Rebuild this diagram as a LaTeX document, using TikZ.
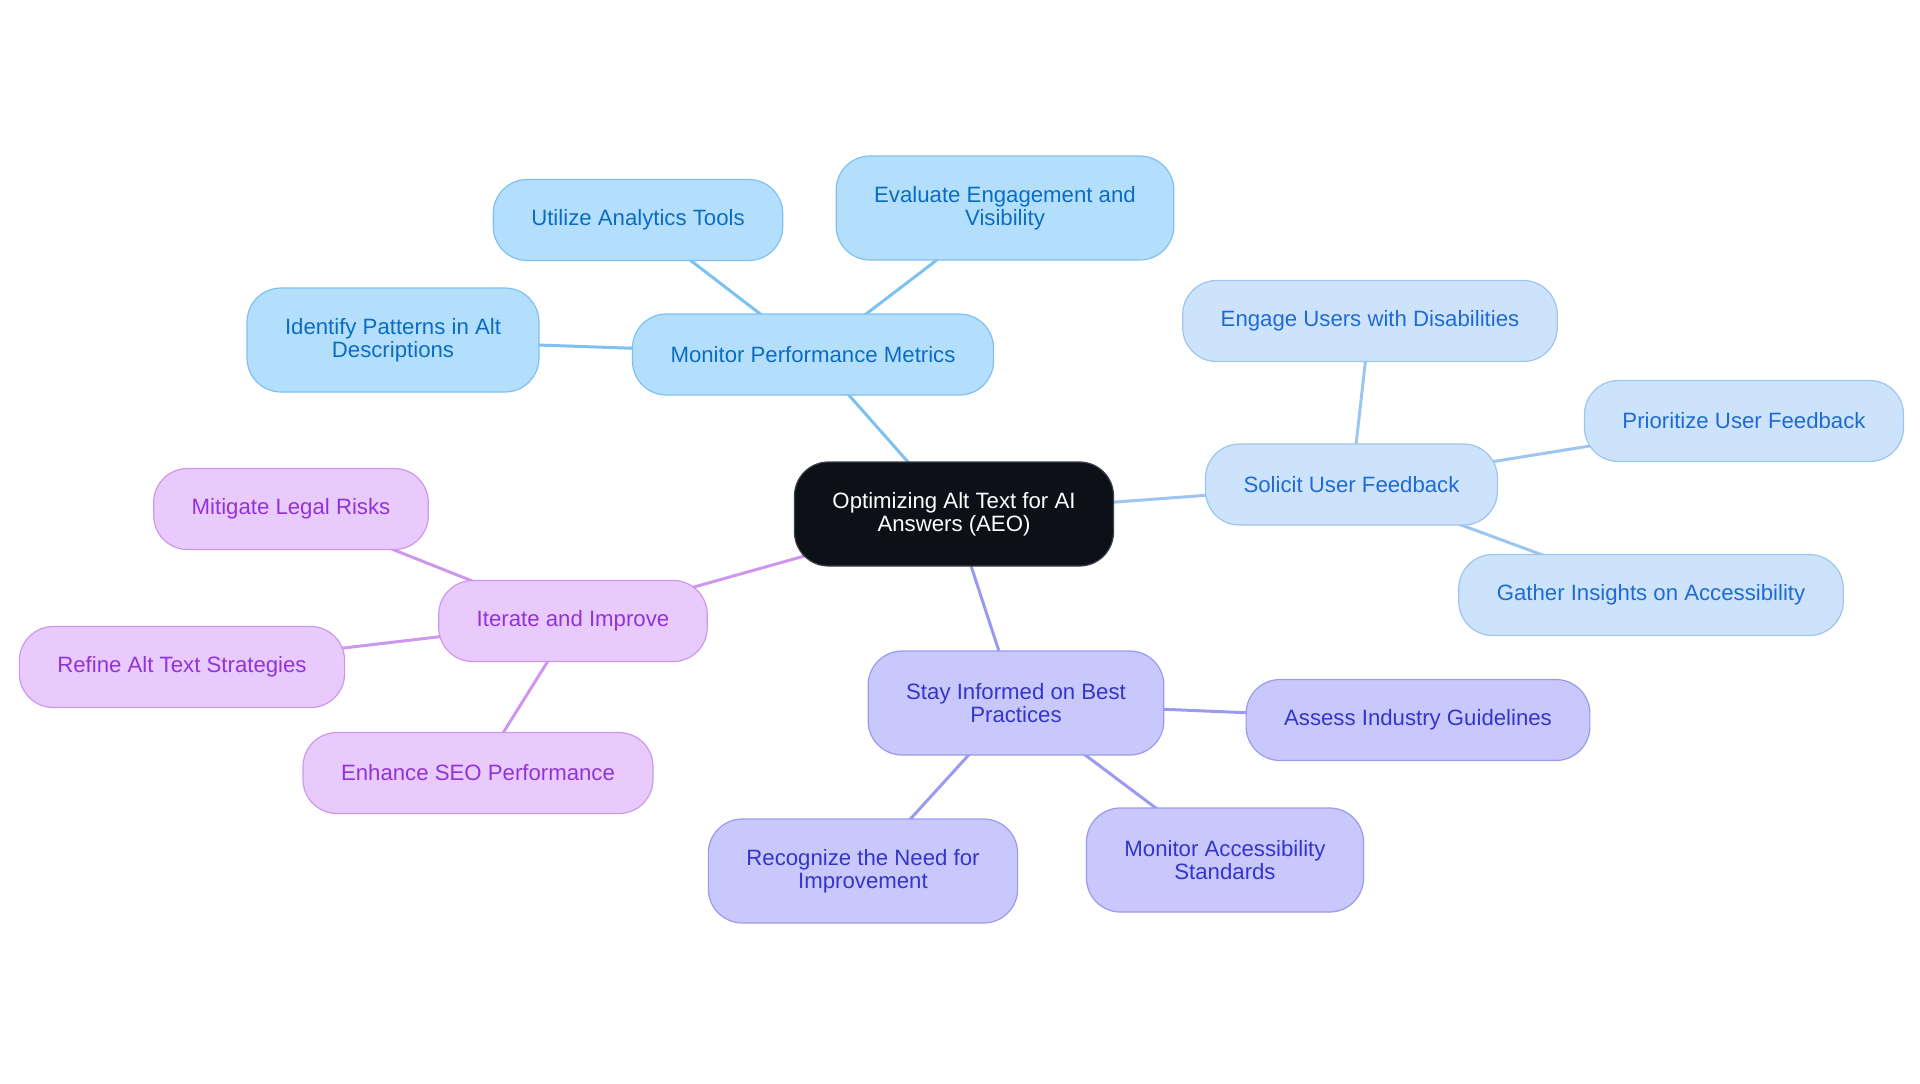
\documentclass[tikz,border=0pt]{standalone}
\usepackage{fontspec}
\setmainfont{Liberation Sans}
\usepackage{tikz}
\usetikzlibrary{positioning}
\pgfdeclarelayer{background}
\pgfsetlayers{background,main}

\definecolor{rootfill}{HTML}{0D1117}
\definecolor{rootline}{HTML}{3A3F47}
\definecolor{bluefill}{HTML}{B3DFFD}
\definecolor{blueline}{HTML}{7DC1F0}
\definecolor{bluetext}{HTML}{0B6DC2}
\definecolor{skyfill}{HTML}{CDE3FB}
\definecolor{skyline}{HTML}{9CC5F0}
\definecolor{skytext}{HTML}{1F6BD4}
\definecolor{lilacfill}{HTML}{E8CBFC}
\definecolor{lilacline}{HTML}{CE97EE}
\definecolor{lilactext}{HTML}{9233D6}
\definecolor{indigofill}{HTML}{C8C8FC}
\definecolor{indigoline}{HTML}{9A9AF0}
\definecolor{indigotext}{HTML}{3535CB}

\newcommand{\mapfont}{\fontsize{11.1}{11.6}\selectfont}

\tikzset{
  idea/.style={draw, line width=0.6pt, rounded corners=17pt, align=center,
               inner xsep=19pt, minimum height=40.5pt, font=\mapfont},
  tall/.style={minimum height=52pt},
  rootidea/.style={idea, tall, fill=rootfill, draw=rootline, text=white},
  blueidea/.style={idea, fill=bluefill, draw=blueline, text=bluetext},
  skyidea/.style={idea, fill=skyfill, draw=skyline, text=skytext},
  lilacidea/.style={idea, fill=lilacfill, draw=lilacline, text=lilactext},
  indigoidea/.style={idea, fill=indigofill, draw=indigoline, text=indigotext},
  link/.style={line width=1.5pt}
}

\begin{document}
\begin{tikzpicture}
\useasboundingbox (-477pt,-284.5pt) rectangle (483pt,257pt);
\node[rootidea](root)at(0,0){Optimizing Alt Text for AI\\Answers (AEO)};
% branche : suivi des performances
\node[blueidea, xshift=-70.5pt, yshift=79.75pt](mpm)at(root){Monitor Performance Metrics};
\node[blueidea, xshift=-87.5pt, yshift=67.25pt](uat)at(mpm){Utilize Analytics Tools};
\node[blueidea, tall, xshift=96pt, yshift=73.25pt](eev)at(mpm){Evaluate Engagement and\\Visibility};
\node[blueidea, tall, xshift=-210pt, yshift=7.25pt](ipa)at(mpm){Identify Patterns in Alt\\Descriptions};
% branche : retours des utilisateurs
\node[skyidea, xshift=198.75pt, yshift=14.75pt](suf)at(root){Solicit User Feedback};
\node[skyidea, xshift=9.25pt, yshift=81.75pt](euw)at(suf){Engage Users with Disabilities};
\node[skyidea, xshift=196.25pt, yshift=31.75pt](puf)at(suf){Prioritize User Feedback};
\node[skyidea, xshift=149.75pt, yshift=-55.25pt](gia)at(suf){Gather Insights on Accessibility};
% branche : amélioration continue
\node[lilacidea, xshift=-190.5pt, yshift=-53.5pt](iai)at(root){Iterate and Improve};
\node[lilacidea, xshift=-141pt, yshift=56pt](mlr)at(iai){Mitigate Legal Risks};
\node[lilacidea, xshift=-195.5pt, yshift=-23pt](rat)at(iai){Refine Alt Text Strategies};
\node[lilacidea, xshift=-47.5pt, yshift=-76pt](esp)at(iai){Enhance SEO Performance};
% branche : veille
\node[indigoidea, tall, xshift=31pt, yshift=-94.5pt](sib)at(root){Stay Informed on Best\\Practices};
\node[indigoidea, xshift=201pt, yshift=-8.5pt](aig)at(sib){Assess Industry Guidelines};
\node[indigoidea, tall, xshift=-76.5pt, yshift=-84pt](rni)at(sib){Recognize the Need for\\Improvement};
\node[indigoidea, tall, xshift=104.5pt, yshift=-78.5pt](mas)at(sib){Monitor Accessibility\\Standards};
\begin{pgfonlayer}{background}
\draw[link, blueline](root.center)--(mpm.center);
\draw[link, blueline](mpm.center)--(uat.center);
\draw[link, blueline](mpm.center)--(eev.center);
\draw[link, blueline](mpm.center)--(ipa.center);
\draw[link, skyline](root.center)--(suf.center);
\draw[link, skyline](suf.center)--(euw.center);
\draw[link, skyline](suf.center)--(puf.center);
\draw[link, skyline](suf.center)--(gia.center);
\draw[link, lilacline](root.center)--(iai.center);
\draw[link, lilacline](iai.center)--(mlr.center);
\draw[link, lilacline](iai.center)--(rat.center);
\draw[link, lilacline](iai.center)--(esp.center);
\draw[link, indigoline](root.center)--(sib.center);
\draw[link, indigoline](sib.center)--(aig.center);
\draw[link, indigoline](sib.center)--(rni.center);
\draw[link, indigoline](sib.center)--(mas.center);
\end{pgfonlayer}
\end{tikzpicture}
\end{document}
